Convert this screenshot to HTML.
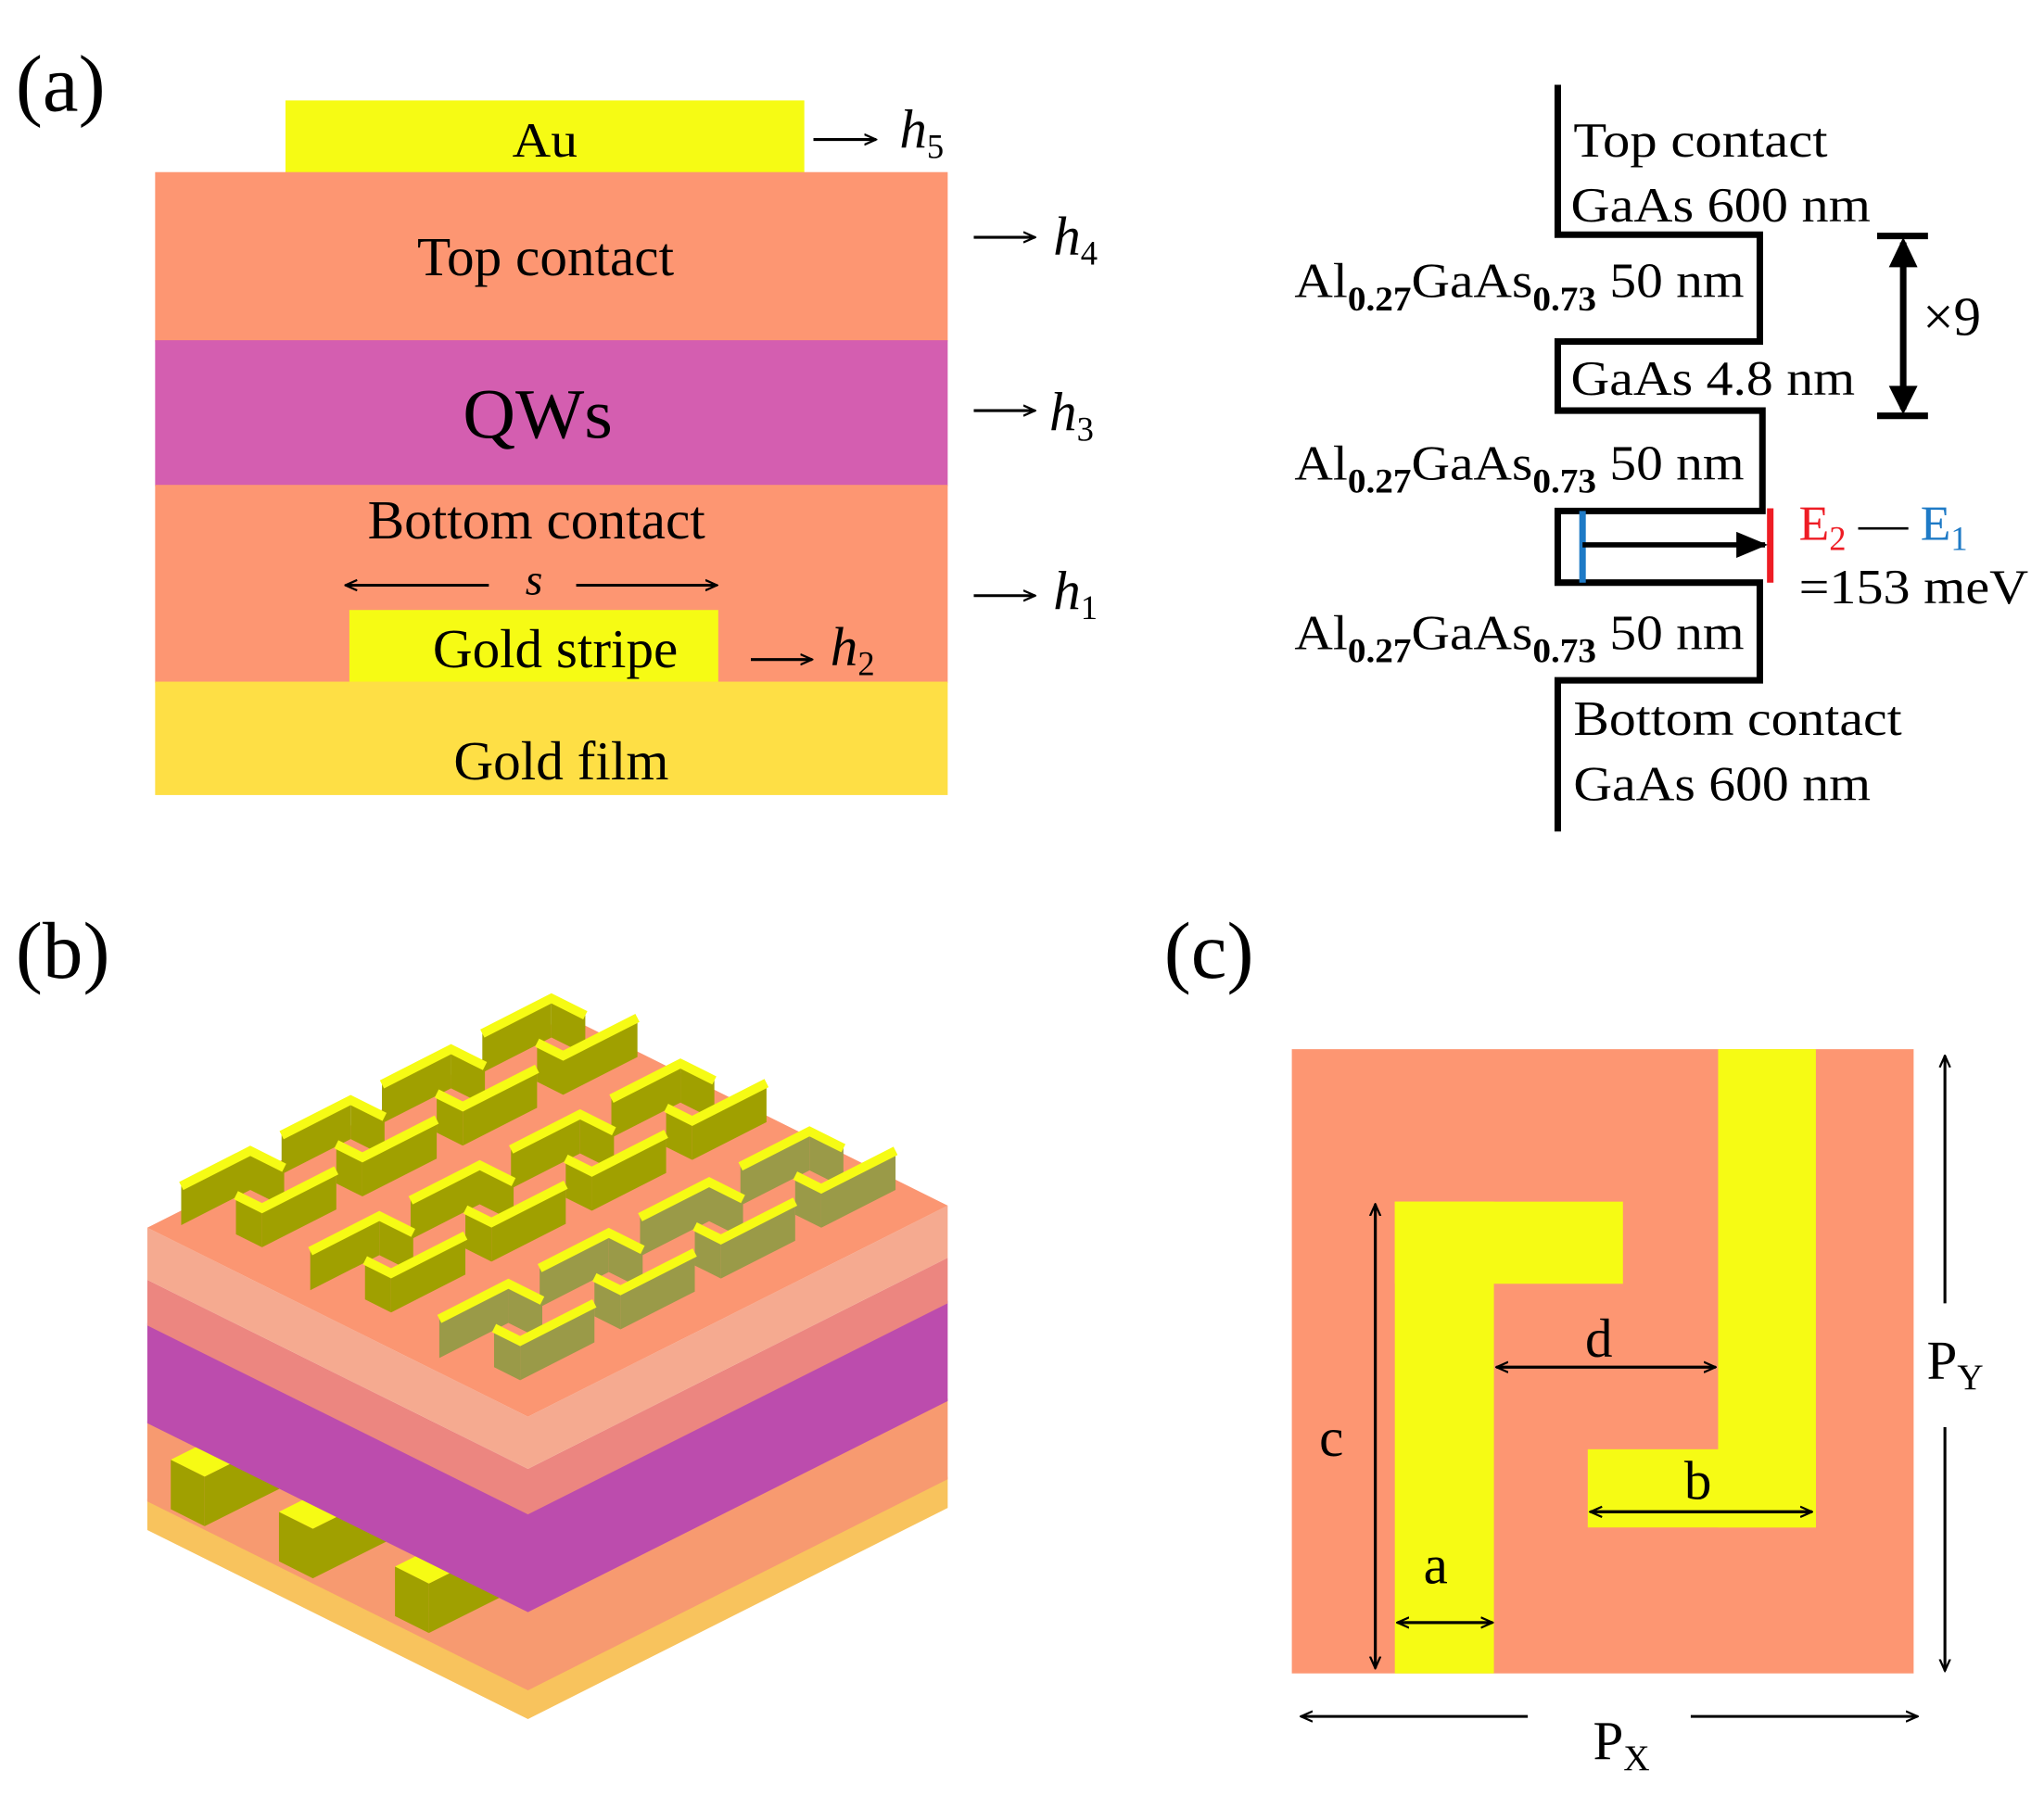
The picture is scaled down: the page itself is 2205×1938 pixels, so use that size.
<!DOCTYPE html>
<html><head><meta charset="utf-8"><style>
html,body{margin:0;padding:0;background:#fff;}
svg{display:block;}
svg text{font-family:"Liberation Serif","Times New Roman",Tinos,serif;fill:#000;}
</style></head><body>
<svg id="s" width="2205" height="1938" viewBox="0 0 1568 1378" xmlns="http://www.w3.org/2000/svg" font-family="Liberation Serif, Times New Roman, serif">
<defs>
<marker id="ah" markerWidth="10" markerHeight="10" refX="9" refY="5" orient="auto" markerUnits="userSpaceOnUse"><path d="M0,1 L9,5 L0,9" fill="none" stroke="#000" stroke-width="1.6"/></marker>
<marker id="bh" markerWidth="24" markerHeight="20" refX="22" refY="10" orient="auto" markerUnits="userSpaceOnUse"><path d="M0,0 L24,10 L0,20 Z" fill="#000"/></marker>
</defs>
<rect width="1568" height="1378" fill="#fff"/>
<!-- (a) -->
<text x="12" y="85" font-size="62">(a)</text>
<rect x="219" y="77" width="398" height="56" fill="#f6fb14"/>
<rect x="119" y="132" width="608" height="130" fill="#fd9672"/>
<rect x="119" y="261" width="608" height="112" fill="#d45eb0"/>
<rect x="119" y="372" width="608" height="152" fill="#fd9672"/>
<rect x="268" y="468" width="283" height="56" fill="#f6fb14"/>
<rect x="119" y="523" width="608" height="87" fill="#fedf45"/>
<text x="393" y="120" font-size="38" textLength="50" lengthAdjust="spacingAndGlyphs">Au</text>
<text x="320" y="211" font-size="42" textLength="197" lengthAdjust="spacingAndGlyphs">Top contact</text>
<text x="355" y="336" font-size="54" textLength="115" lengthAdjust="spacingAndGlyphs">QWs</text>
<text x="282" y="413" font-size="42" textLength="259" lengthAdjust="spacingAndGlyphs">Bottom contact</text>
<text x="403" y="456" font-size="34" font-style="italic">s</text>
<line x1="375" y1="449" x2="265" y2="449" stroke="#000" stroke-width="2.2" marker-end="url(#ah)"/>
<line x1="442" y1="449" x2="550" y2="449" stroke="#000" stroke-width="2.2" marker-end="url(#ah)"/>
<text x="332" y="512" font-size="42" textLength="188" lengthAdjust="spacingAndGlyphs">Gold stripe</text>
<text x="348" y="598" font-size="42" textLength="165" lengthAdjust="spacingAndGlyphs">Gold film</text>
<g stroke="#000" stroke-width="2.2">
<line x1="624" y1="107" x2="672" y2="107" marker-end="url(#ah)"/>
<line x1="747" y1="182" x2="794" y2="182" marker-end="url(#ah)"/>
<line x1="747" y1="315" x2="794" y2="315" marker-end="url(#ah)"/>
<line x1="747" y1="457" x2="794" y2="457" marker-end="url(#ah)"/>
<line x1="576" y1="506" x2="623" y2="506" marker-end="url(#ah)"/>
</g>
<g font-size="42" font-style="italic">
<text x="690" y="113">h<tspan font-size="26" dy="8" font-style="normal">5</tspan></text>
<text x="808" y="195">h<tspan font-size="26" dy="8" font-style="normal">4</tspan></text>
<text x="805" y="330">h<tspan font-size="26" dy="8" font-style="normal">3</tspan></text>
<text x="808" y="467">h<tspan font-size="26" dy="8" font-style="normal">1</tspan></text>
<text x="637" y="510">h<tspan font-size="26" dy="8" font-style="normal">2</tspan></text>
</g>
<!-- band diagram -->
<polyline points="1195,65 1195,180 1350,180 1350,262 1195,262 1195,315 1352,315 1352,392 1195,392 1195,447 1350,447 1350,522 1195,522 1195,638" fill="none" stroke="#000" stroke-width="5"/>
<line x1="1214" y1="392" x2="1214" y2="447" stroke="#1e7ac6" stroke-width="5"/>
<line x1="1358" y1="390" x2="1358" y2="447" stroke="#ee1c24" stroke-width="5"/>
<line x1="1214" y1="418" x2="1354" y2="418" stroke="#000" stroke-width="4" marker-end="url(#bh)"/>
<line x1="1460" y1="186" x2="1460" y2="314" stroke="#000" stroke-width="5"/>
<path d="M1449,205 L1460,182 L1471,205 Z M1449,296 L1460,318 L1471,296 Z" fill="#000"/>
<line x1="1440" y1="181" x2="1479" y2="181" stroke="#000" stroke-width="5"/>
<line x1="1440" y1="319" x2="1479" y2="319" stroke="#000" stroke-width="5"/>
<text x="1475" y="257" font-size="42">×9</text>
<g font-size="38">
<text x="1207" y="120" textLength="195" lengthAdjust="spacingAndGlyphs">Top contact</text>
<text x="1205" y="170" textLength="230" lengthAdjust="spacingAndGlyphs">GaAs 600 nm</text>
<text x="1205" y="303" textLength="218" lengthAdjust="spacingAndGlyphs">GaAs 4.8 nm</text>
<text x="1207" y="564" textLength="252" lengthAdjust="spacingAndGlyphs">Bottom contact</text>
<text x="1207" y="614" textLength="228" lengthAdjust="spacingAndGlyphs">GaAs 600 nm</text>
<text x="993" y="228" textLength="345" lengthAdjust="spacingAndGlyphs">Al<tspan font-size="26" font-weight="bold" dy="10">0.27</tspan><tspan dy="-10">GaAs</tspan><tspan font-size="26" font-weight="bold" dy="10">0.73</tspan><tspan dy="-10"> 50 nm</tspan></text>
<text x="993" y="368" textLength="345" lengthAdjust="spacingAndGlyphs">Al<tspan font-size="26" font-weight="bold" dy="10">0.27</tspan><tspan dy="-10">GaAs</tspan><tspan font-size="26" font-weight="bold" dy="10">0.73</tspan><tspan dy="-10"> 50 nm</tspan></text>
<text x="993" y="498" textLength="345" lengthAdjust="spacingAndGlyphs">Al<tspan font-size="26" font-weight="bold" dy="10">0.27</tspan><tspan dy="-10">GaAs</tspan><tspan font-size="26" font-weight="bold" dy="10">0.73</tspan><tspan dy="-10"> 50 nm</tspan></text>
<text x="1380" y="414"><tspan fill="#ee1c24">E<tspan font-size="26" dy="8">2</tspan></tspan><tspan dy="-8"> — </tspan><tspan fill="#1e7ac6">E<tspan font-size="26" dy="8">1</tspan></tspan></text>
<text x="1380" y="463" textLength="176" lengthAdjust="spacingAndGlyphs">=153 meV</text>
</g>
<!-- (b) -->
<text x="12" y="750" font-size="62">(b)</text>
<g id="b3d"></g>
<!-- (c) -->
<text x="893" y="750" font-size="62">(c)</text>
<rect x="991" y="805" width="477" height="479" fill="#fd9672"/>
<rect x="1318" y="805" width="75" height="367" fill="#f6fb14"/>
<rect x="1218" y="1112" width="175" height="60" fill="#f6fb14"/>
<rect x="1070" y="922" width="76" height="362" fill="#f6fb14"/>
<rect x="1070" y="922" width="175" height="63" fill="#f6fb14"/>
<g stroke="#000" stroke-width="2.2">
<line x1="1055" y1="924" x2="1055" y2="1280" marker-end="url(#ah)"/><line x1="1055" y1="1280" x2="1055" y2="924" marker-end="url(#ah)"/>
<line x1="1148" y1="1049" x2="1316" y2="1049" marker-end="url(#ah)"/><line x1="1316" y1="1049" x2="1148" y2="1049" marker-end="url(#ah)"/>
<line x1="1220" y1="1160" x2="1390" y2="1160" marker-end="url(#ah)"/><line x1="1390" y1="1160" x2="1220" y2="1160" marker-end="url(#ah)"/>
<line x1="1072" y1="1245" x2="1145" y2="1245" marker-end="url(#ah)"/><line x1="1145" y1="1245" x2="1072" y2="1245" marker-end="url(#ah)"/>
<line x1="1492" y1="1000" x2="1492" y2="810" marker-end="url(#ah)"/>
<line x1="1492" y1="1095" x2="1492" y2="1282" marker-end="url(#ah)"/>
<line x1="1172" y1="1317" x2="998" y2="1317" marker-end="url(#ah)"/>
<line x1="1297" y1="1317" x2="1471" y2="1317" marker-end="url(#ah)"/>
</g>
<g font-size="42">
<text x="1012" y="1117">c</text>
<text x="1216" y="1041">d</text>
<text x="1292" y="1150">b</text>
<text x="1092" y="1215">a</text>
<text x="1478" y="1058">P<tspan font-size="28" dy="8">Y</tspan></text>
<text x="1222" y="1350">P<tspan font-size="28" dy="8">X</tspan></text>
</g>
</svg>
<script>
(function(){
var g=document.getElementById('b3d'),NS='http://www.w3.org/2000/svg';
function poly(pts,fill,op){var p=document.createElementNS(NS,'polygon');p.setAttribute('points',pts.map(function(a){return a[0]+','+a[1]}).join(' '));p.setAttribute('fill',fill);if(op)p.setAttribute('fill-opacity',op);g.appendChild(p);}
function pl(pts,stroke,w){var p=document.createElementNS(NS,'polyline');p.setAttribute('points',pts.map(function(a){return a[0]+','+a[1]}).join(' '));p.setAttribute('fill','none');p.setAttribute('stroke',stroke);p.setAttribute('stroke-width',w);p.setAttribute('stroke-linejoin','miter');g.appendChild(p);}
var L=[113,942],F=[405,1087],R=[727,925],B=[435,780];
function band(d1,d2,c,op){poly([[L[0],L[1]+d1],[F[0],F[1]+d1],[R[0],R[1]+d1],[R[0],R[1]+d2],[F[0],F[1]+d2],[L[0],L[1]+d2]],c,op);}
band(208,232,'#f8c35d');
band(148,210,'#f79a70');
[[131,1120],[214,1160],[303,1202]].forEach(function(p){
 var x=p[0],y=p[1],h=38;
 poly([[x,y],[x+26,y+13],[x+26,y+13+h],[x,y+h]],'#a0a000');
 poly([[x+26,y+13],[x+90,y-19],[x+90,y-19+h],[x+26,y+13+h]],'#a0a000');
 poly([[x,y],[x+28,y-14],[x+54,y-1],[x+26,y+13]],'#f6fb14');
});
band(73,150,'#bc4cad');
band(40,75,'#ec8680');
band(0,40,'#f5aa90');
poly([L,F,R,B],'#fb9672');
function wall(pts,h,c){
 for(var i=0;i<pts.length-1;i++){var a=pts[i],b=pts[i+1];poly([a,b,[b[0],b[1]+h],[a[0],a[1]+h]],c);}
 pl(pts,'#f6fb14',7);
}
var rows=[[139,910,'#a0a000'],[238,960,'#a0a000'],[337,1012,'#9a9a48']];
rows.forEach(function(r){
 for(var k=3;k>=0;k--){var ox=r[0]+k*77,oy=r[1]-k*39;
  wall([[ox,oy],[ox+53,oy-27],[ox+79,oy-14]],30,r[2]);}
 for(var k=3;k>=0;k--){var ox=r[0]+k*77,oy=r[1]-k*39;
  wall([[ox+42,oy+7],[ox+62,oy+17],[ox+119,oy-12]],30,r[2]);}
});
})();
</script>
</body></html>
